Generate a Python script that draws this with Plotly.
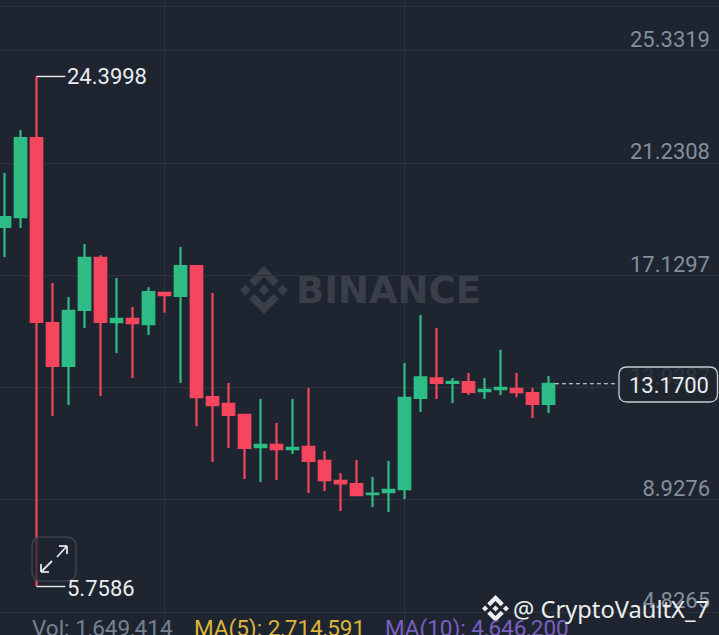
import plotly.graph_objects as go

W, H = 719, 635

# Candle values
candle_index = list(range(35))
open_price = [18.90, 19.26, 22.15, 15.39, 13.82, 15.87, 17.77, 15.42, 15.54, 15.35, 16.49, 16.38, 17.47, 12.68, 12.43, 12.03,
              10.85, 10.94, 10.78, 10.86, 10.35, 9.62, 9.50, 9.13, 9.21, 9.32, 12.65, 13.37, 13.20, 13.23, 12.90, 12.97,
              12.98, 12.83, 12.43]
high_price = [20.87, 22.44, 24.3998, 16.85, 16.34, 18.28, 17.87, 17.03, 15.97, 16.70, 16.52, 18.17, 17.47, 16.49, 13.20, 12.06,
              12.61, 11.73, 12.61, 13.01, 10.71, 9.91, 10.38, 9.76, 10.35, 13.93, 15.68, 15.21, 13.38, 13.56, 13.38, 14.41,
              13.56, 13.01, 13.45]
low_price = [17.80, 18.86, 5.7586, 11.99, 12.39, 15.21, 12.72, 14.29, 13.38, 14.95, 15.76, 13.20, 11.62, 10.31, 10.82, 9.69,
             9.58, 9.65, 10.60, 9.18, 9.25, 8.52, 9.07, 8.66, 8.48, 8.96, 12.14, 12.61, 12.47, 12.76, 12.61, 12.76,
             12.68, 11.92, 12.10]
close_price = [19.26, 22.15, 15.43, 13.82, 15.83, 17.77, 15.43, 15.54, 15.38, 16.52, 16.41, 17.47, 12.68, 12.39, 12.03, 10.82,
               10.94, 10.78, 10.83, 10.35, 9.65, 9.53, 9.10, 9.15, 9.29, 12.65, 13.40, 13.20, 13.24, 12.87, 12.95, 13.02,
               12.86, 12.43, 13.17]

price_ticks = [25.3319, 21.2308, 17.1297, 13.0287, 8.9276, 4.8265]
price_tick_labels = ["25.3319", "21.2308", "17.1297", "13.0287", "8.9276", "4.8265"]
top_grid_value = 26.94
grid_candles = [10, 25]

high_label = "24.3998"
low_label = "5.7586"
last_label = "13.1700"
last_price = 13.17
volume_text = "Vol: 1,649,414"
ma5_text = "MA(5): 2,714,591"
ma10_text = "MA(10): 4,646,200"
handle_text = "@ CryptoVaultX_7"
watermark_text = "BINANCE"

BG = "#1E2530"
GRID = "#2C323C"
GREEN = "#2EBD85"
RED = "#F6465D"
AXIS_TEXT = "#848E9C"
WHITE = "#EAECEF"


def px(x):
    return x / W


def py(y):
    return 1 - y / H


def poly(points, ox, oy, scale):
    return "M" + "L".join(f"{px(ox + a * scale):.5f},{py(oy + b * scale):.5f}" for a, b in points) + "Z"


def round_rect(x0, y0, x1, y1, r):
    p = lambda a, b: f"{px(a):.5f},{py(b):.5f}"
    return (f"M{p(x0 + r, y0)}L{p(x1 - r, y0)}Q{p(x1, y0)} {p(x1, y0 + r)}L{p(x1, y1 - r)}Q{p(x1, y1)} {p(x1 - r, y1)}"
            f"L{p(x0 + r, y1)}Q{p(x0, y1)} {p(x0, y1 - r)}L{p(x0, y0 + r)}Q{p(x0, y0)} {p(x0 + r, y0)}Z")


LOGO = [
    [(38.73, 53.2), (63.3, 28.64), (87.9, 53.24), (102.2, 38.93), (63.3, 0), (24.42, 38.92)],
    [(0, 63.31), (14.31, 49), (28.62, 63.31), (14.31, 77.61)],
    [(38.73, 73.41), (63.3, 98), (87.9, 73.4), (102.2, 87.7), (63.3, 126.61), (24.42, 87.7)],
    [(97.99, 63.31), (112.3, 49), (126.61, 63.31), (112.3, 77.62)],
    [(77.83, 63.3), (63.3, 48.78), (48.78, 63.3), (63.3, 77.83)],
]


def logo(ox, oy, size, color, layer):
    s = size / 126.61
    return [dict(type="path", xref="paper", yref="paper", path=poly(part, ox, oy, s),
                 fillcolor=color, line=dict(width=0), layer=layer) for part in LOGO]


fig = go.Figure(go.Candlestick(
    x=candle_index, open=open_price, high=high_price, low=low_price, close=close_price,
    increasing=dict(line=dict(color=GREEN, width=2.2), fillcolor=GREEN),
    decreasing=dict(line=dict(color=RED, width=2.2), fillcolor=RED),
    whiskerwidth=0, showlegend=False,
))

shapes = []
shapes += logo(240, 266, 48, "#393E48", "below")
# high / low leader lines and last-price line
shapes.append(dict(type="line", xref="x", yref="y", x0=2, x1=3.8, y0=high_price[2], y1=high_price[2],
                   line=dict(color=WHITE, width=1.4)))
shapes.append(dict(type="line", xref="x", yref="y", x0=2, x1=3.8, y0=low_price[2], y1=low_price[2],
                   line=dict(color=WHITE, width=1.4)))
shapes.append(dict(type="line", xref="x", yref="y", x0=34.4, x1=38.3, y0=last_price, y1=last_price,
                   line=dict(color=WHITE, width=1.1, dash="4px,3px")))
# last-price badge
shapes.append(dict(type="path", xref="paper", yref="paper", path=round_rect(619, 367, 717.5, 402, 8),
                   fillcolor="rgba(30,37,48,0.86)", line=dict(color="#C9CDD2", width=1.3)))
# expand button
shapes.append(dict(type="path", xref="paper", yref="paper", path=round_rect(32, 537, 76, 581, 10),
                   fillcolor="rgba(30,37,48,0.72)", line=dict(color="#3C424C", width=1.5)))
for seg in [((41, 572), (52, 561)), ((41, 572), (41, 564)), ((41, 572), (49, 572)),
            ((57, 557), (67, 546)), ((67, 546), (59, 546)), ((67, 546), (67, 554))]:
    shapes.append(dict(type="line", xref="paper", yref="paper", x0=px(seg[0][0]), y0=py(seg[0][1]),
                       x1=px(seg[1][0]), y1=py(seg[1][1]), line=dict(color="#E4E6E9", width=1.8)))
shapes += logo(482, 595, 27, "#EDEDED", "above")


def text(s, x, y, anchor, color, size, family="Roboto", **kw):
    return dict(text=s, x=px(x), y=py(y), xref="paper", yref="paper", xanchor=anchor, yanchor="middle",
                showarrow=False, font=dict(color=color, size=size, family=family), borderpad=0, **kw)


annotations = [
    text(high_label, 66, 77, "left", WHITE, 22),
    text(low_label, 66, 588, "left", WHITE, 22),
    text(last_label, 710, 385, "right", WHITE, 22),
    text(f"<b>{watermark_text}</b>", 295, 290, "left", "#393E48", 37, family="DejaVu Sans"),
    text(volume_text, 31, 628, "left", "#76808E", 22.5),
    text(ma5_text, 193, 628, "left", "#DDB53A", 22.5),
    text(ma10_text, 384, 628, "left", "#7A5FC0", 22.5),
    text(handle_text, 512, 609, "left", "#EDEDED", 23.7, family="Noto Sans"),
]

fig.update_layout(
    width=W, height=H, margin=dict(l=0, r=0, t=0, b=0),
    paper_bgcolor=BG, plot_bgcolor=BG,
    boxgap=0.28, boxgroupgap=0,
    shapes=shapes, annotations=annotations, showlegend=False,
    xaxis=dict(range=[-0.28125, 44.656], tickvals=grid_candles, showticklabels=False, showgrid=True,
               gridcolor=GRID, gridwidth=1, zeroline=False, showline=False, ticks="",
               rangeslider=dict(visible=False), fixedrange=True),
    yaxis=dict(range=[3.986, 27.195], side="right", tickvals=price_ticks + [top_grid_value],
               ticktext=price_tick_labels + [""], ticklabelposition="inside top", ticklabelstandoff=6,
               ticklabelshift=4,
               tickfont=dict(color=AXIS_TEXT, size=22, family="Roboto"), showgrid=True, gridcolor=GRID,
               gridwidth=1, zeroline=False, showline=False, ticks="", fixedrange=True),
)

fig.write_html("out.html", config=dict(displayModeBar=False),
               post_script="document.body.style.margin='0';document.body.style.overflow='hidden';")
